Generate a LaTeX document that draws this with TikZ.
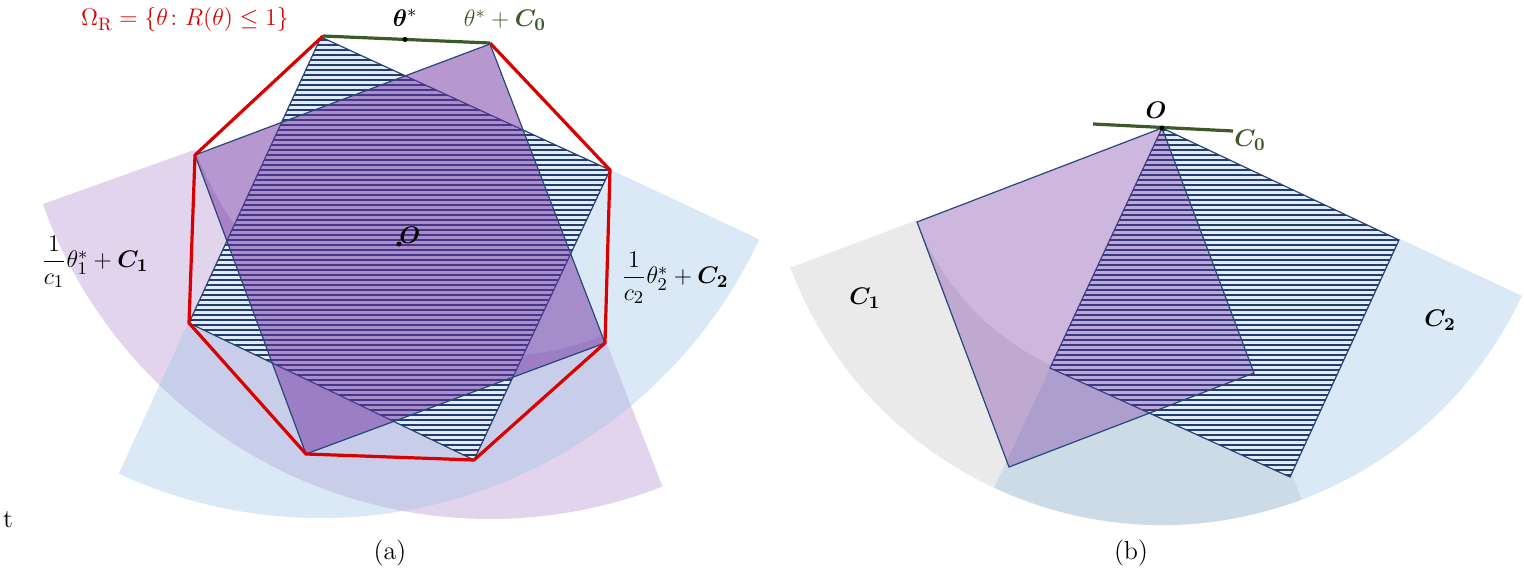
\documentclass[tikz,border=0pt]{standalone}
\usepackage{amsmath}
\usepackage{bm}
\usetikzlibrary{calc}
\begin{document}
\begin{tikzpicture}[x=0.5pt,y=0.5pt,
  purplesec/.style={fill={rgb,255:red,150;green,100;blue,190},fill opacity=0.28},
  bluesec/.style={fill={rgb,255:red,160;green,195;blue,228},fill opacity=0.38},
  graysec/.style={fill={rgb,255:red,225;green,225;blue,225},fill opacity=0.7},
  hatchbg/.style={fill={rgb,255:red,225;green,236;blue,248},draw={rgb,255:red,40;green,70;blue,120},line width=0.6pt},
  hatchline/.style={draw={rgb,255:red,35;green,60;blue,110},line width=1.25pt},
  purplesq/.style={fill={rgb,255:red,112;green,48;blue,160},fill opacity=0.5,draw={rgb,255:red,40;green,70;blue,120},line width=0.6pt},
  purplesqb/.style={fill={rgb,255:red,112;green,48;blue,160},fill opacity=0.35,draw={rgb,255:red,40;green,70;blue,120},line width=0.6pt},
  lab/.style={font=\fontsize{13}{15}\selectfont},
  capt/.style={font=\fontsize{13}{15}\selectfont}]
\useasboundingbox (0,0) rectangle (1524,580);
\definecolor{dgreen}{RGB}{60,90,40}
% ---------- panel (a) ----------
\fill[purplesec] (490,536) ++(199.7:475) arc[start angle=199.7,end angle=291.3,radius=475] -- ($(490,536)+(291.3:313)$) arc[start angle=291.3,end angle=199.7,radius=313] -- cycle;
\fill[bluesec] (321,546) ++(245.3:484) arc[start angle=245.3,end angle=334.9,radius=484] -- ($(321,546)+(334.9:320)$) arc[start angle=334.9,end angle=245.3,radius=320] -- cycle;
\path[hatchbg] (321,543) -- (610,410) -- (474,120) -- (189,257) -- cycle;
\begin{scope}
\clip (321,543) -- (610,410) -- (474,120) -- (189,257) -- cycle;
\foreach \yy in {100,105,...,560} \draw[hatchline] (150,\yy) -- (650,\yy);
\end{scope}
\path[purplesq] (490,536) -- (605,237) -- (306,126) -- (195,425) -- cycle;
\draw[red!85!black,line width=1.6pt,line join=round] (490,537) -- (610,410) -- (605,237) -- (474,120) -- (306,126) -- (189,257) -- (195,425) -- (323,544);
\coordinate (ta) at (323,544);
\coordinate (tb) at (490,537);
\draw[dgreen,line width=1.6pt] (ta) -- (tb);
\fill (405,540.5) circle (2.5);
\node[lab] (ts) at (405,562) {$\bm{\theta}^*$};
\node[lab,text=dgreen] (tc) at (505,560) {$\theta^*+\bm{C}_{\mathbf 0}$};
\node[lab,text=red!85!black] (om) at (185,560) {$\Omega_{\mathrm R}=\{\theta\colon R(\theta)\le 1\}$};
\fill (399,336) circle (2.5);
\node[lab,anchor=south west,inner sep=0pt] (oa) at (399,336) {$\bm{O}$};
\node[lab] (l1) at (95,318) {$\dfrac{1}{c_1}\theta_1^*+\bm{C}_{\mathbf 1}$};
\node[lab] (l2) at (675,302) {$\dfrac{1}{c_2}\theta_2^*+\bm{C}_{\mathbf 2}$};
\node[capt] (t) at (8,60) {t};
\node[capt] (ca) at (390,27) {(a)};
% ---------- panel (b) ----------
\fill[graysec] (1162,452) ++(200.6:397) arc[start angle=200.6,end angle=290.6,radius=397] -- ($(1162,452)+(290.6:262)$) arc[start angle=290.6,end angle=200.6,radius=262] -- cycle;
\fill[bluesec] (1162,452) ++(245:397) arc[start angle=245,end angle=335,radius=397] -- ($(1162,452)+(335:262)$) arc[start angle=335,end angle=245,radius=262] -- cycle;
\path[hatchbg] (1162,452) -- (1399,340) -- (1290,103) -- (1050,212) -- cycle;
\begin{scope}
\clip (1162,452) -- (1399,340) -- (1290,103) -- (1050,212) -- cycle;
\foreach \yy in {100,105,...,460} \draw[hatchline] (1000,\yy) -- (1450,\yy);
\end{scope}
\path[purplesqb] (1162,452) -- (917,358) -- (1009,113) -- (1254,207) -- cycle;
\coordinate (ga) at (1093,456);
\coordinate (gb) at (1233,449);
\draw[dgreen,line width=1.6pt] (ga) -- (gb);
\fill (1162,452) circle (2.5);
\node[lab,anchor=south] (ob) at (1156,454) {$\bm{O}$};
\node[lab,text=dgreen] (c0) at (1250,440) {$\bm{C}_{\mathbf 0}$};
\node[lab] (c1) at (865,282) {$\bm{C}_{\mathbf 1}$};
\node[lab] (c2) at (1440,260) {$\bm{C}_{\mathbf 2}$};
\node[capt] (cb) at (1131,27) {(b)};
\end{tikzpicture}
\end{document}
